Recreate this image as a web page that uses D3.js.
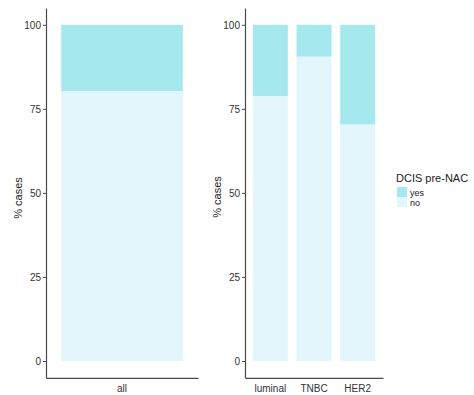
<!DOCTYPE html>
<html><head><meta charset="utf-8">
<script src="https://cdn.jsdelivr.net/npm/d3@7"></script>
<style>body{margin:0;background:#fff}text{font-family:"Liberation Sans",Arial,sans-serif}</style>
</head><body>
<svg id="c" width="474" height="395"></svg>
<script>
const leftCats = ["all"];
const leftNo = [80.2];
const rightCats = ["luminal", "TNBC", "HER2"];
const rightNo = [78.8, 90.5, 70.3];
const yTicks = [0, 25, 50, 75, 100];
const legendKeys = ["yes", "no"];
const colors = {yes: "#a5e9ef", no: "#e2f6fc"};

const svg = d3.select("#c");
const y = d3.scaleLinear().domain([-5, 105]).range([377.8, 8]);

function panel(x0, x1, cats, noVals, pi, po) {
  const x = d3.scaleBand().domain(cats).range([x0, x1]).paddingInner(pi).paddingOuter(po);
  const g = svg.append("g");
  cats.forEach((c, i) => {
    const no = noVals[i];
    g.append("rect").attr("x", x(c)).attr("width", x.bandwidth())
      .attr("y", y(100)).attr("height", y(no) - y(100)).attr("fill", colors.yes);
    g.append("rect").attr("x", x(c)).attr("width", x.bandwidth())
      .attr("y", y(no)).attr("height", y(0) - y(no)).attr("fill", colors.no);
  });
  const ya = g.append("g").attr("transform", `translate(${x0},0)`)
    .call(d3.axisLeft(y).tickValues(yTicks).tickSize(3).tickSizeOuter(0).tickPadding(2));
  const xa = g.append("g").attr("transform", `translate(0,${y(-5)})`)
    .call(d3.axisBottom(x).tickSize(3).tickSizeOuter(0).tickPadding(4));
  [ya, xa].forEach(a => {
    a.select(".domain").attr("stroke", "#4a4a4a").attr("stroke-width", 1.2);
    a.selectAll(".tick line").attr("stroke", "#4a4a4a");
    a.selectAll(".tick text").attr("fill", "#333").attr("font-size", 10);
  });
  xa.selectAll(".tick line").remove();
  return g;
}

panel(46, 198, leftCats, leftNo, 0.2, 0.1);
panel(245, 383, rightCats, rightNo, 0.2, 0.18);

[[22, 198], [221, 197]].forEach(([cx, cy]) => {
  svg.append("text").attr("transform", `translate(${cx},${cy}) rotate(-90)`)
    .attr("text-anchor", "middle").attr("font-size", 11).attr("fill", "#222").text("% cases");
});

const lg = svg.append("g").attr("transform", "translate(396,182)");
lg.append("text").attr("font-size", 11).attr("fill", "#222").text("DCIS pre-NAC");
legendKeys.forEach((k, i) => {
  lg.append("rect").attr("x", 1).attr("y", 5 + i * 10).attr("width", 10).attr("height", 10).attr("fill", colors[k]);
  lg.append("text").attr("x", 14).attr("y", 13.5 + i * 10).attr("font-size", 9).attr("fill", "#222").text(k);
});
</script>
</body></html>
